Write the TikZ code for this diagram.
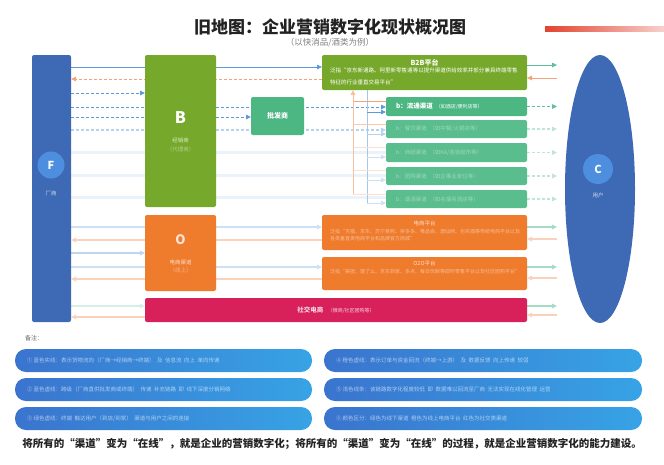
\documentclass[tikz,border=0pt]{standalone}
\usepackage{fontspec}
\setmainfont{Noto Sans CJK SC}
\XeTeXlinebreaklocale "zh"
\XeTeXlinebreakskip=0pt plus 1pt
\usetikzlibrary{arrows.meta,shapes.geometric,backgrounds}
\definecolor{fblue}{HTML}{3E6AB5}
\definecolor{cblue}{HTML}{4D8EDF}
\definecolor{greenB}{HTML}{76A92B}
\definecolor{teal}{HTML}{4CB783}
\definecolor{orangeB}{HTML}{EF7B2D}
\definecolor{pinkB}{HTML}{D8205B}
\definecolor{lblue}{HTML}{5B9BD9}
\definecolor{lorange}{HTML}{F5A478}
\definecolor{lgreen}{HTML}{5CC09A}
\definecolor{pillL}{HTML}{3A74CE}
\definecolor{pillR}{HTML}{37A3E5}
\definecolor{redbar}{HTML}{E2432F}
\definecolor{titlec}{HTML}{222222}
\begin{document}
\begin{tikzpicture}[x=1pt,y=-1pt,
  every node/.style={inner sep=0pt,outer sep=0pt},
  blk/.style={rounded corners=2pt,anchor=north west},
  lbl/.style={text=white,font=\fontsize{7}{8}\selectfont},
  faint/.style={text=white,opacity=0.75,font=\fontsize{5.5}{7}\selectfont},
  tip/.style={-{Triangle[width=4.5pt,length=5pt]}},
  bl/.style={draw=lblue,line width=0.8pt},
  bld/.style={draw=lblue,line width=0.8pt,dash pattern=on 3pt off 2pt},
  bll/.style={draw=lblue!45,line width=1.2pt,dash pattern=on 3pt off 2pt},
  pale/.style={draw=lblue!12,line width=3pt},
  ord/.style={draw=lorange,line width=0.8pt,dash pattern=on 3pt off 2pt},
  orl/.style={draw=lorange!50,line width=1.2pt},
  grd/.style={draw=lgreen,line width=0.8pt,dash pattern=on 3pt off 2pt},
  grl/.style={draw=lgreen!55,line width=1.2pt},
  pill/.style={rounded corners=11pt,left color=pillL,right color=pillR,anchor=north west,minimum height=23pt}
]
\useasboundingbox (0,0) rectangle (664,464);

% ---------- title ----------
\node[text=titlec] (title) at (330,27) {\fontsize{17}{17}\selectfont\bfseries 旧地图：企业营销数字化现状概况图};
\node[text=gray] (subtitle) at (330,43) {\fontsize{8.5}{9}\selectfont （以快消品/酒类为例）};
\shade[left color=redbar,right color=redbar!25] (545,26) rectangle (664,31);

% ---------- main blocks ----------
\node[blk,fill=fblue,minimum width=39pt,minimum height=267pt] (F) at (32,55) {};
\node[circle,fill=cblue,minimum size=27pt,text=white] (Fc) at (51,165) {\fontsize{11}{11}\selectfont\bfseries F};
\node[faint] (Fname) at (51,193) {厂商};

\node[ellipse,fill=fblue,minimum width=70pt,minimum height=268pt] (C) at (600,189) {};
\node[circle,fill=cblue,minimum size=30pt,text=white] (Cc) at (598,169) {\fontsize{11}{11}\selectfont\bfseries C};
\node[faint] (Cname) at (598,195) {用户};

\node[blk,fill=greenB,minimum width=71pt,minimum height=152pt] (B) at (145,55) {};
\node[text=white] (Bl) at (180.5,118) {\fontsize{16}{16}\selectfont\bfseries B};
\node[faint] (Bn) at (180.5,140) {经销商};
\node[faint,opacity=0.45] (Bn2) at (180.5,149) {（代理商）};

\node[blk,fill=teal,minimum width=53pt,minimum height=38pt] (W) at (251,97) {};
\node[lbl] at (W.center) {\bfseries 批发商};

\node[blk,fill=greenB,minimum width=205pt,minimum height=35pt] (P) at (322,55) {};
\node[lbl] (Pt) at (424.5,63) {\fontsize{7}{8}\selectfont\bfseries B2B平台};
\node[text=white,anchor=north west,text width=188pt,align=left] (Pd) at (330,68) {\fontsize{5.5}{8}\selectfont 泛指“京东新通路、阿里新零售通等以提升渠道供给效率并部分兼具终端零售特征的行业垂直交易平台”};

\node[blk,fill=teal,minimum width=141pt,minimum height=19pt] (b1) at (386,97) {};
\node[blk,fill=teal!92,minimum width=141pt,minimum height=18pt] (b2) at (386,120) {};
\node[blk,fill=teal!92,minimum width=141pt,minimum height=19pt] (b3) at (386,143) {};
\node[blk,fill=teal!92,minimum width=141pt,minimum height=18pt] (b4) at (386,167) {};
\node[blk,fill=teal!92,minimum width=141pt,minimum height=18pt] (b5) at (386,190) {};
\node[text=white,anchor=west] (b1t) at (396,106.5) {\fontsize{6.5}{7}\selectfont\bfseries b：流通渠道\ \ \mdseries\fontsize{5}{6}\selectfont （如酒店/便利店等）};
\node[faint,anchor=west,opacity=0.4] (b2t) at (396,129) {b：餐饮渠道\ \ （如中餐/火锅店等）};
\node[faint,anchor=west,opacity=0.4] (b3t) at (396,152.5) {b：商超渠道\ \ （如KA/连锁超市等）};
\node[faint,anchor=west,opacity=0.4] (b4t) at (396,176) {b：团购渠道\ \ （如企事业单位等）};
\node[faint,anchor=west,opacity=0.4] (b5t) at (396,199) {b：烟酒渠道\ \ （如名烟名酒店等）};

\node[blk,fill=orangeB,minimum width=71pt,minimum height=76pt] (O) at (145,215) {};
\node[text=white,opacity=0.8] (Ol) at (180.5,240) {\fontsize{13}{13}\selectfont\bfseries O};
\node[faint] (On) at (180.5,262) {电商渠道};
\node[faint,opacity=0.45] (On2) at (180.5,270) {（线上）};

\node[blk,fill=orangeB,minimum width=205pt,minimum height=35pt] (O1) at (322,215) {};
\node[faint] (O1t) at (424.5,223) {电商平台};
\node[faint,opacity=0.5,anchor=north west,text width=190pt,align=left] (O1d) at (330,229) {\fontsize{5}{8}\selectfont 泛指“天猫、京东、苏宁易购、拼多多、唯品会、酒仙网、也买酒等传统电商平台以及各类垂直类电商平台和品牌官方商城”};
\node[blk,fill=orangeB,minimum width=205pt,minimum height=33pt] (O2) at (322,257) {};
\node[faint] (O2t) at (424.5,263) {O2O平台};
\node[faint,opacity=0.5,anchor=north west,text width=190pt,align=left] (O2d) at (330,269) {\fontsize{5}{8}\selectfont 泛指“美团、饿了么、京东到家、多点、每日优鲜等即时零售平台以及社区团购平台”};

\node[blk,fill=pinkB,minimum width=382pt,minimum height=24pt] (S) at (145,298) {};
\node[text=white,opacity=0.8] (St) at (336,310) {\fontsize{6.5}{7}\selectfont\bfseries 社交电商\ \ \ \mdseries\fontsize{5}{6}\selectfont （微商/社区团购等）};

% ---------- connectors ----------
\begin{pgfonlayer}{background}
\foreach \n/\y in {r65/65,r67/67,r78/78,r79/79,r93/93,r101/101,r107/107,r112/112,r117/117,r124/124,r130/130,r134/134,r147/147,r152/152,r157/157,r170/170,r175/175,r180/180,r194/194,r197/197,r203/203,r227/227,r239/239,r240/240,r253/253,r267/267,r278/278,r279/279,r306/306,r315/315,r317/317}
  \coordinate (\n) at (0,\y);
\coordinate (xe) at (557,0);
\coordinate (xo) at (353,0);
\coordinate (xb) at (367,0);
% F side, upper part
\draw[bl,tip] (F.east |- r67) -- (P.west |- r67);
\draw[ord,tip] (P.west |- r79) -- (F.east |- r79);
\draw[bld,tip] (F.east |- r93) -- (B.west |- r93);
\draw[bld,tip] (F.east |- r107) -- (b1.west |- r107);
\draw[bld,tip] (F.east |- r117) -- (W.west |- r117);
\draw[bll,tip] (F.east |- r130) -- (b2.west |- r130);
\draw[pale] (F.east |- r152) -- (b3.west |- r152);
\draw[pale] (F.east |- r175) -- (b4.west |- r175);
\draw[pale] (F.east |- r197) -- (b5.west |- r197);
% B2B to b channels
\draw[draw=lblue!55,line width=1pt] (P.south -| xb) -- (xb |- r203);
\draw[draw=lblue,line width=0.8pt,tip] (xb |- r112) -- (b1.west |- r112);
\draw[draw=lblue!45,line width=1pt,tip] (xb |- r134) -- (b2.west |- r134);
\draw[draw=lblue!30,line width=1pt,tip] (xb |- r157) -- (b3.west |- r157);
\draw[draw=lblue!30,line width=1pt,tip] (xb |- r180) -- (b4.west |- r180);
\draw[draw=lblue!30,line width=1pt,tip] (xb |- r203) -- (b5.west |- r203);
\draw[draw=lorange,line width=0.8pt] (b1.west |- r101) -- (xo |- r101);
\draw[draw=lorange!60,line width=1pt] (b2.west |- r124) -- (xo |- r124);
\draw[draw=lorange!35,line width=1pt] (b3.west |- r147) -- (xo |- r147);
\draw[draw=lorange!35,line width=1pt] (b4.west |- r170) -- (xo |- r170);
\draw[draw=lorange!35,line width=1pt] (b5.west |- r194) -- (xo |- r194);
\draw[draw=lorange!70,line width=0.9pt,tip] (xo |- r194) -- (P.south -| xo);
% right side, upper part
\draw[draw=lgreen,line width=0.8pt,tip] (P.east |- r65) -- (xe |- r65);
\draw[draw=lorange,line width=0.8pt,tip] (xe |- r78) -- (P.east |- r78);
\draw[grd,tip] (b1.east) -- (xe |- b1.east);
\draw[grd,draw=lgreen!40,line width=1.2pt,tip] (b2.east) -- (xe |- b2.east);
\draw[grd,draw=lgreen!40,line width=1.2pt,tip] (b3.east) -- (xe |- b3.east);
\draw[grd,draw=lgreen!40,line width=1.2pt,tip] (b4.east) -- (xe |- b4.east);
\draw[grd,draw=lgreen!40,line width=1.2pt,tip] (b5.east) -- (xe |- b5.east);
% F side, lower part
\draw[draw=lblue!30,line width=1.2pt,tip] (F.east |- r227) -- (O1.west |- r227);
\draw[orl,tip] (O1.west |- r240) -- (F.east |- r240);
\draw[draw=lblue!40,line width=1.2pt,tip] (F.east |- r253) -- (O.west |- r253);
\draw[draw=lblue!30,line width=1.2pt,tip] (F.east |- r267) -- (O2.west |- r267);
\draw[orl,tip] (O2.west |- r279) -- (F.east |- r279);
\draw[grl,draw=lgreen!25,tip] (F.east |- r306) -- (S.west |- r306);
\draw[orl,tip] (S.west |- r317) -- (F.east |- r317);
% right side, lower part
\draw[grl,tip] (O1.east |- r227) -- (xe |- r227);
\draw[orl,tip] (xe |- r239) -- (O1.east |- r239);
\draw[grl,tip] (O2.east |- r267) -- (xe |- r267);
\draw[orl,tip] (xe |- r278) -- (O2.east |- r278);
\draw[grl,tip] (S.east |- r306) -- (xe |- r306);
\draw[orl,tip] (xe |- r315) -- (S.east |- r315);
\end{pgfonlayer}

% ---------- legend ----------
\node[anchor=west,text=titlec,opacity=0.7] (note) at (25,338) {\fontsize{6}{7}\selectfont 备注：};
\node[pill,minimum width=297pt] (L1) at (15,349) {};
\node[pill,minimum width=297pt] (L2) at (15,378) {};
\node[pill,minimum width=297pt] (L3) at (15,407) {};
\node[pill,minimum width=318pt] (R1) at (324,349) {};
\node[pill,minimum width=318pt] (R2) at (324,378) {};
\node[pill,minimum width=318pt] (R3) at (324,407) {};
\node[faint,anchor=west,opacity=0.6] at ([xshift=12pt]L1.west) {①\ 蓝色实线：表示货物流向（厂商→经销商→终端）\ \ 及\ \ 信息流\ \ 向上\ \ 单向传递};
\node[faint,anchor=west,opacity=0.6] at ([xshift=12pt]L2.west) {②\ 蓝色虚线：跨级（厂商直供批发商或终端）\ \ 传递\ \ 补充链路\ \ 即\ \ 线下深度分销网络};
\node[faint,anchor=west,opacity=0.6] at ([xshift=12pt]L3.west) {③\ 绿色虚线：终端\ \ 触达用户（到店/到家）\ \ 渠道与用户之间的连接};
\node[faint,anchor=west,opacity=0.6] at ([xshift=12pt]R1.west) {④\ 橙色虚线：表示订单与资金回流（终端→上游）\ \ 及\ \ 数据反馈\ \ 向上传递\ \ 较弱};
\node[faint,anchor=west,opacity=0.6] at ([xshift=12pt]R2.west) {⑤\ 浅色线条：该链路数字化程度较低\ \ 即\ \ 数据难以回流至厂商\ \ 无法实现在线化管理\ \ 运营};
\node[faint,anchor=west,opacity=0.6] at ([xshift=12pt]R3.west) {⑥\ 颜色区分：绿色为线下渠道\ \ 橙色为线上电商平台\ \ 红色为社交类渠道};

\node[text=titlec] (foot) at (332,444) {\fontsize{10.5}{11}\selectfont\bfseries 将所有的“渠道”变为“在线”，就是企业的营销数字化；将所有的“渠道”变为“在线”的过程，就是企业营销数字化的能力建设。};
\end{tikzpicture}
\end{document}
